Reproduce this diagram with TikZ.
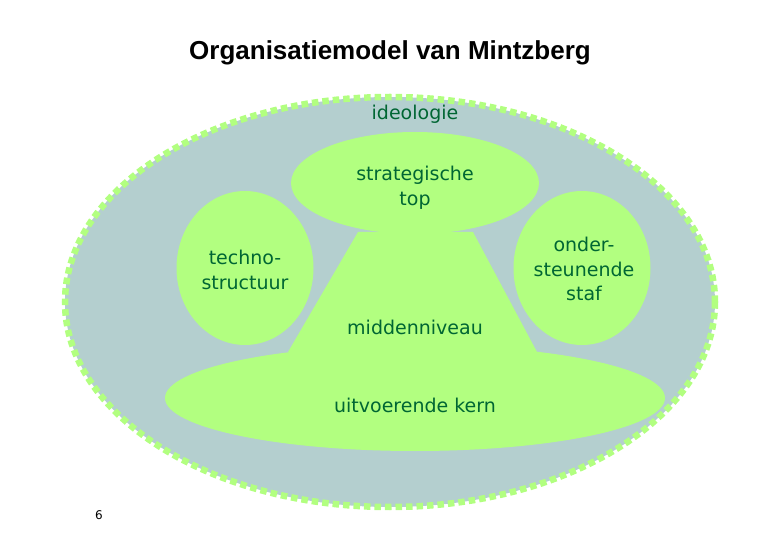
\documentclass[tikz,border=0pt]{standalone}
\usepackage{fontspec}
\setmainfont{DejaVu Sans}
\newfontfamily\titlefont{Liberation Sans}
\usetikzlibrary{shapes.geometric,positioning}
\definecolor{blobgreen}{RGB}{178,255,128}
\definecolor{ideogray}{RGB}{180,207,207}
\definecolor{labelgreen}{RGB}{0,102,51}
\tikzset{
        part/.style={ellipse, inner sep=0pt, fill=blobgreen},
        % Outer ideology ellipse
        part_ideo/.style={ellipse, inner sep=0pt, fill=ideogray, draw=blobgreen, line width=6.5pt, dash pattern=on 6.5pt off 4pt},
        % Labels inside the parts
        part_text/.style={align=center, inner sep=0pt, text=labelgreen, font=\fontsize{19}{24.5}\selectfont}
}
\begin{document}
\begin{tikzpicture}[x=1pt, y=-1pt]
    \useasboundingbox (0,0) rectangle (780,540);
    \node[font=\titlefont\bfseries\fontsize{26}{31}\selectfont] (title) at (390,53) {Organisatiemodel van Mintzberg};
    \node[part_ideo, minimum width=650pt, minimum height=410pt] (ideo) at (390,302) {};
    \node[part, minimum width=500pt, minimum height=106pt] (kern) at (415,398) {};
    \fill[blobgreen] (358,232) coordinate (mtl) -- (473,232) coordinate (mtr)
        -- (537,352) coordinate (mbr) -- (288,352) coordinate (mbl) -- cycle;
    \node[part, minimum width=248pt, minimum height=102pt] (top) at (415,183) {};
    \node[part, minimum width=137pt, minimum height=154pt] (techno) at (245,268) {};
    \node[part, minimum width=137pt, minimum height=154pt] (staf) at (582,268) {};
    % labels
    \node[part_text] at (415,114) {ideologie};
    \node[part_text] at (415,188) {strategische\\top};
    \node[part_text] at (245,270) {techno-\\structuur};
    \node[part_text] at (584,269) {onder-\\steunende\\staf};
    \node[part_text] at (415,327) {middenniveau};
    \node[part_text] at (415,405) {uitvoerende kern};
    \node[font=\fontsize{12}{14}\selectfont] (page) at (99,515) {6};
\end{tikzpicture}
\end{document}
